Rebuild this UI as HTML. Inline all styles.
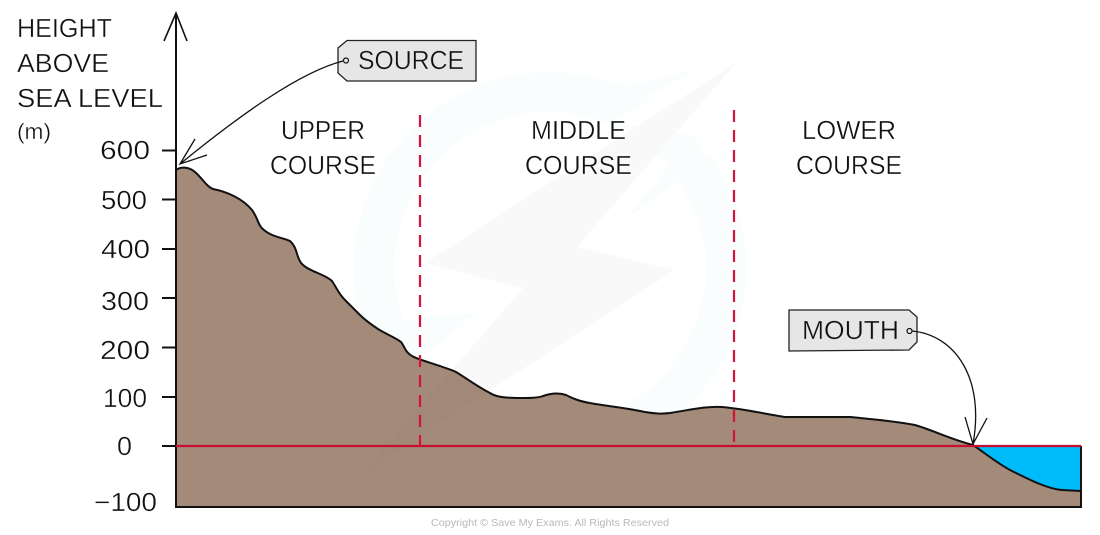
<!DOCTYPE html>
<html><head><meta charset="utf-8"><style>
html,body{margin:0;padding:0;background:#fff}
svg{display:block}
text{font-family:"Liberation Sans",sans-serif;font-size:26px;fill:#111;stroke:#fff;stroke-width:.35px;paint-order:normal}
.t text{stroke:#e6e6e6}
</style></head><body>
<svg width="1100" height="535" viewBox="0 0 1100 535" xmlns="http://www.w3.org/2000/svg">
<rect width="1100" height="535" fill="#fff"/>
<path d="M550 72A196 196 0 1 0 746 267A196 196 0 0 0 550 72ZM550 112A156 156 0 1 1 394 267A156 156 0 0 1 550 112Z" fill="#f9fdfe" fill-rule="evenodd"/>
<path d="M610 122L700 72L730 130L680 180L625 220L693 135Z" fill="#fff"/>
<path d="M627 85L697 70L640 100Z" fill="#f9fdfe"/>
<path d="M693 135L625 220L680 180L706 240L730 200Z" fill="#f9fdfe"/>
<path d="M477 313L425 355L405 340L400 320Z" fill="#f9fdfe"/>
<path d="M737 62L577 247L675 270L363 473L523 288L425 263Z" fill="#f9f9f9"/>
<path d="M176 170C180 167 188 166 195 172C202 178 207 187 213 189C228 192 243 199 252 210C258 218 258 226 264 230C272 237 284 238 290 241C298 248 296 258 302 264C310 272 325 274 332 281C338 290 338 293 345 300L360 315C366 321 372 325 378 329C386 334 396 338 401 342C405 347 405 352 412 356C417 359 425 361 440 366C448 369 452 370 456 372C466 378 478 387 490 393C496 397 505 398 520 398C530 398 538 398 543 396C552 393 560 393 566 395C572 398 578 401 590 403C605 406 620 407 640 411C655 414 662 414 670 413C690 410 705 406 722 407C745 409 765 414 785 417L850 417C870 419 895 421 915 425C935 431 950 439 973 445C985 453 998 464 1012 471C1030 480 1048 489 1062 490L1081 491L1081 507L176 507Z" fill="#a38a79"/>
<path d="M973 446L1081 446L1081 491L1062 490C1048 489 1030 480 1012 471C998 464 985 453 973 446Z" fill="#00bbf9"/>
<path d="M523 288L363 473L675 270L577 247L737 62L425 263Z" fill="#000" opacity=".012" clip-path="url(#c)"/>
<clipPath id="c"><path d="M176 170C180 167 188 166 195 172C202 178 207 187 213 189C228 192 243 199 252 210C258 218 258 226 264 230C272 237 284 238 290 241C298 248 296 258 302 264C310 272 325 274 332 281C338 290 338 293 345 300L360 315C366 321 372 325 378 329C386 334 396 338 401 342C405 347 405 352 412 356C417 359 425 361 440 366C448 369 452 370 456 372C466 378 478 387 490 393C496 397 505 398 520 398L520 507L176 507Z"/></clipPath>
<path d="M176 170C180 167 188 166 195 172C202 178 207 187 213 189C228 192 243 199 252 210C258 218 258 226 264 230C272 237 284 238 290 241C298 248 296 258 302 264C310 272 325 274 332 281C338 290 338 293 345 300L360 315C366 321 372 325 378 329C386 334 396 338 401 342C405 347 405 352 412 356C417 359 425 361 440 366C448 369 452 370 456 372C466 378 478 387 490 393C496 397 505 398 520 398C530 398 538 398 543 396C552 393 560 393 566 395C572 398 578 401 590 403C605 406 620 407 640 411C655 414 662 414 670 413C690 410 705 406 722 407C745 409 765 414 785 417L850 417C870 419 895 421 915 425C935 431 950 439 973 445C985 453 998 464 1012 471C1030 480 1048 489 1062 490L1081 491" fill="none" stroke="#111" stroke-width="2"/>
<path d="M176 13V507H1081V446" fill="none" stroke="#111" stroke-width="2"/>
<path d="M164 41L176 13L187 41" fill="none" stroke="#111" stroke-width="1.6"/>
<path d="M162 150.500H176M162 199.500H176M162 249H176M162 298H176M162 347.500H176M162 397H176M162 446H176" stroke="#111" stroke-width="2"/>
<path d="M420 115V446M734 110V446" stroke="#d5133a" stroke-width="2.200" stroke-dasharray="12 8" fill="none"/>
<path d="M176 446H1081" stroke="#c90f30" stroke-width="2.200"/>
<path d="M338 48L347 40.500H476V81H347L338 73Z" fill="#e6e6e6" stroke="#222" stroke-width="1.300"/>
<circle cx="346" cy="60.500" r="2.500" fill="none" stroke="#111" stroke-width="1.200"/>
<path d="M343 61C300 72 240 115 180 164M195 139L180 164L207 155" fill="none" stroke="#111" stroke-width="1.300"/>
<path d="M789 310H909L917 317V342L909 350L789 351Z" fill="#e6e6e6" stroke="#222" stroke-width="1.300"/>
<circle cx="909.500" cy="331" r="2.500" fill="none" stroke="#111" stroke-width="1.200"/>
<path d="M912 331C955 335 985 378 973 444M965 417L973 444L987 418" fill="none" stroke="#111" stroke-width="1.300"/>
<text x="17" y="37" textLength="95" lengthAdjust="spacingAndGlyphs">HEIGHT</text>
<text x="17" y="72" textLength="92" lengthAdjust="spacingAndGlyphs">ABOVE</text>
<text x="17" y="107" textLength="146" lengthAdjust="spacingAndGlyphs">SEA LEVEL</text>
<text x="17" y="139" textLength="34" lengthAdjust="spacingAndGlyphs" style="font-size:22px">(m)</text>
<text x="100" y="159" textLength="50" lengthAdjust="spacingAndGlyphs">600</text>
<text x="101" y="209" textLength="46" lengthAdjust="spacingAndGlyphs">500</text>
<text x="101" y="258" textLength="49" lengthAdjust="spacingAndGlyphs">400</text>
<text x="101" y="310" textLength="48" lengthAdjust="spacingAndGlyphs">300</text>
<text x="100" y="359" textLength="50" lengthAdjust="spacingAndGlyphs">200</text>
<text x="103" y="407" textLength="44" lengthAdjust="spacingAndGlyphs">100</text>
<text x="117" y="455" textLength="15" lengthAdjust="spacingAndGlyphs">0</text>
<text x="94" y="511" textLength="63" lengthAdjust="spacingAndGlyphs">−100</text>
<text x="281" y="139" textLength="84" lengthAdjust="spacingAndGlyphs">UPPER</text>
<text x="270" y="174" textLength="106" lengthAdjust="spacingAndGlyphs">COURSE</text>
<text x="531" y="139" textLength="95" lengthAdjust="spacingAndGlyphs">MIDDLE</text>
<text x="525" y="174" textLength="107" lengthAdjust="spacingAndGlyphs">COURSE</text>
<text x="802" y="139" textLength="94" lengthAdjust="spacingAndGlyphs">LOWER</text>
<text x="796" y="174" textLength="106" lengthAdjust="spacingAndGlyphs">COURSE</text>
<g class="t"><text x="358" y="69" textLength="106" lengthAdjust="spacingAndGlyphs">SOURCE</text>
<text x="802" y="339" textLength="97" lengthAdjust="spacingAndGlyphs">MOUTH</text></g>
<text x="431" y="526" textLength="238" lengthAdjust="spacingAndGlyphs" style="font-size:10.500px;fill:#b8b8b8;stroke:none">Copyright © Save My Exams. All Rights Reserved</text>
</svg>
</body></html>
